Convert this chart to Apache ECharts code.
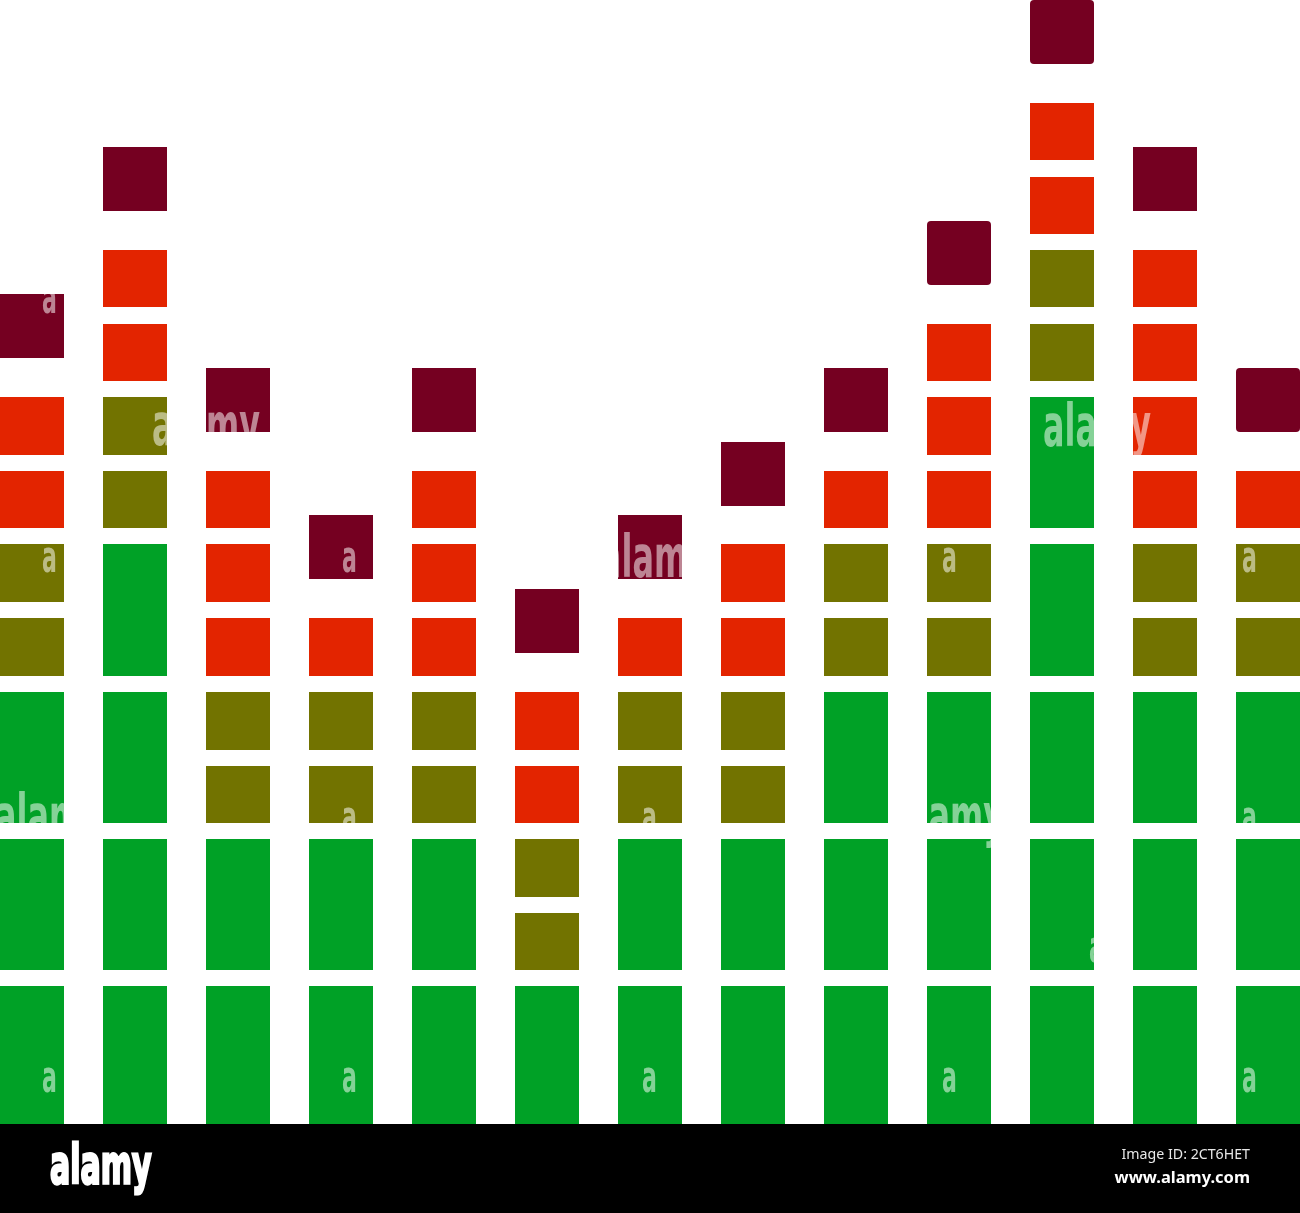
<!DOCTYPE html>
<html>
<head>
<meta charset="utf-8">
<title>Equalizer</title>
<style>
  html, body { margin: 0; padding: 0; background: #fff; }
  #chart { width: 1300px; height: 1213px; }
</style>
<script src="https://cdn.jsdelivr.net/npm/echarts@6/dist/echarts.min.js"></script>
</head>
<body>
<div id="chart"></div>
<script>
// one entry per column, left to right
const columns = [0, 1, 2, 3, 4, 5, 6, 7, 8, 9, 10, 11, 12];
const greenCounts = [3, 4, 2, 2, 2, 1, 2, 2, 3, 3, 5, 3, 3];
const oliveCounts = [2, 2, 2, 2, 2, 2, 2, 2, 2, 2, 2, 2, 2];
const redCounts = [2, 2, 3, 1, 3, 2, 1, 2, 1, 3, 2, 4, 1];
const peakLows = [766, 913, 692, 545, 692, 471, 545, 618, 692, 839, 1060, 913, 692];
const peakHeight = 64;
const roundedPeaks = [9, 10, 12];

// edges of the green blocks on the value axis
const greenLows = [0, 154, 301, 448, 596];
const greenHighs = [138, 285, 432, 580, 727];

// edges of the small cells on the value axis
const cellLows = [154, 227, 301, 374, 448, 522, 596, 669, 743, 817, 890, 964];
const cellHighs = [211, 285, 358, 432, 506, 580, 653, 727, 800, 874, 947, 1021];

const colors = { green: '#00a126', olive: '#727300', red: '#e32400', peak: '#750021' };

// watermark, pale white over the bars
const logoSpots = [[-5, 836], [152, 445], [600, 577], [896, 836], [1043, 446]];
const letterSpots = [
  [42, 313], [42, 572], [42, 1092], [342, 572], [342, 832], [342, 1092], [642, 832],
  [642, 1092], [942, 572], [942, 1092], [1242, 572], [1242, 832], [1242, 1092], [1089, 962]
];
const paleWhite = 'rgba(255,255,255,0.52)';

function buildRows() {
  const rows = [];
  columns.forEach((col, i) => {
    for (let g = 0; g < greenCounts[i]; g++) {
      rows.push([col, greenLows[g], greenHighs[g], colors.green, 0]);
    }
    let cell = (greenCounts[i] - 1) * 2;
    for (let o = 0; o < oliveCounts[i]; o++, cell++) {
      rows.push([col, cellLows[cell], cellHighs[cell], colors.olive, 0]);
    }
    for (let r = 0; r < redCounts[i]; r++, cell++) {
      rows.push([col, cellLows[cell], cellHighs[cell], colors.red, 0]);
    }
    const radius = roundedPeaks.indexOf(col) >= 0 ? 4 : 0;
    rows.push([col, peakLows[i], peakLows[i] + peakHeight, colors.peak, radius]);
  });
  return rows;
}

const rows = buildRows();

function renderCell(params, api) {
  const col = api.value(0);
  const width = api.size([1, 0])[0] * 0.6214;
  const low = api.coord([col, api.value(1)]);
  const high = api.coord([col, api.value(2)]);
  const row = rows[params.dataIndex];
  return {
    type: 'rect',
    shape: {
      x: Math.round(low[0] - width / 2),
      y: Math.round(high[1]),
      width: Math.round(width),
      height: Math.round(low[1]) - Math.round(high[1]),
      r: row[4]
    },
    style: { fill: row[3] }
  };
}

// heavy condensed lettering: a bold face squeezed sideways
function logoText(text, x, baseline, size, scaleX, color, lineWidth) {
  return {
    type: 'text',
    x: x,
    y: baseline + size * 0.24,
    scaleX: scaleX,
    z: 20,
    style: {
      text: text,
      fill: color,
      stroke: lineWidth ? color : null,
      lineWidth: lineWidth || 0,
      font: 'bold ' + size + 'px "DejaVu Sans", sans-serif',
      verticalAlign: 'bottom'
    }
  };
}

const watermark = [];
logoSpots.forEach(s => watermark.push(logoText('alamy', s[0], s[1], 58, 0.55, paleWhite)));
letterSpots.forEach(s => watermark.push(logoText('a', s[0], s[1], 44, 0.5, paleWhite)));

const instance = echarts.init(document.getElementById('chart'), null, { renderer: 'canvas' });

instance.setOption({
  animation: false,
  backgroundColor: '#ffffff',
  grid: { left: 0, right: 0, top: 0, height: 1124 },
  xAxis: { type: 'value', min: -0.3107, max: 12.3107, show: false },
  yAxis: { type: 'value', min: 0, max: 1124, show: false },
  series: [
    {
      type: 'custom',
      renderItem: renderCell,
      encode: { x: 0, y: [1, 2] },
      data: rows.map(r => [r[0], r[1], r[2]])
    }
  ],
  graphic: [
    { type: 'rect', shape: { x: 0, y: 1124, width: 1300, height: 89 }, style: { fill: '#000' }, z: 10 },
    logoText('alamy', 50, 1183, 53, 0.565, '#ffffff', 3),
    {
      type: 'text', x: 1250, y: 1155, z: 20,
      style: {
        text: 'Image ID: 2CT6HET', fill: '#e8e8e8', font: '14.2px "Noto Sans", sans-serif',
        align: 'right', verticalAlign: 'middle'
      }
    },
    {
      type: 'text', x: 1250, y: 1178, z: 20,
      style: {
        text: 'www.alamy.com', fill: '#ffffff', font: 'bold 16.5px "Noto Sans", sans-serif',
        align: 'right', verticalAlign: 'middle'
      }
    }
  ].concat(watermark)
});
</script>
</body>
</html>
